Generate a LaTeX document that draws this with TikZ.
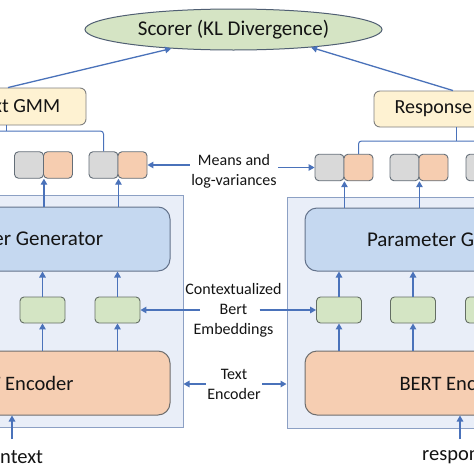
\documentclass[tikz,border=0pt]{standalone}
\usepackage{fontspec}
\setmainfont{Carlito}
\usetikzlibrary{arrows.meta,calc,shapes.geometric}
\definecolor{arrowblue}{RGB}{74,114,186}
\definecolor{panelfill}{RGB}{233,238,248}
\definecolor{paneldraw}{RGB}{140,160,196}
\definecolor{pgfill}{RGB}{197,216,240}
\definecolor{pgdraw}{RGB}{100,115,140}
\definecolor{encfill}{RGB}{246,206,178}
\definecolor{encdraw}{RGB}{110,110,110}
\definecolor{embfill}{RGB}{212,229,196}
\definecolor{embdraw}{RGB}{100,110,100}
\definecolor{gmmfill}{RGB}{254,242,210}
\definecolor{gmmdraw}{RGB}{128,128,128}
\definecolor{scfill}{RGB}{213,228,196}
\definecolor{scdraw}{RGB}{80,95,115}
\definecolor{cellgray}{RGB}{217,217,217}
\definecolor{cellorange}{RGB}{246,205,176}
\definecolor{celldraw}{RGB}{100,110,120}
\definecolor{txt}{RGB}{20,20,20}
\tikzset{
  arr/.style={draw=arrowblue, line width=1.3pt, -{Triangle[length=6pt,width=6.5pt]}},
  brk/.style={draw=arrowblue, line width=1pt, rounded corners=3pt},
  panel/.style={draw=paneldraw, fill=panelfill, line width=1pt, inner sep=0pt},
  pgbox/.style={draw=pgdraw, fill=pgfill, line width=1pt, rounded corners=12pt, inner sep=0pt, font=\fontsize{21}{25}\selectfont, text=txt},
  encbox/.style={draw=encdraw, fill=encfill, line width=1pt, rounded corners=12pt, inner sep=0pt, font=\fontsize{20.5}{24}\selectfont, text=txt},
  emb/.style={draw=embdraw, fill=embfill, line width=0.9pt, rounded corners=4pt, minimum width=45pt, minimum height=26pt, inner sep=0pt},
  gmmbox/.style={draw=gmmdraw, fill=gmmfill, line width=0.9pt, rounded corners=6pt, inner sep=0pt, font=\fontsize{20}{24}\selectfont, text=txt},
  cellg/.style={draw=celldraw, fill=cellgray, line width=0.9pt, rounded corners=4pt, minimum width=29pt, minimum height=26.5pt, inner sep=0pt},
  cello/.style={draw=celldraw, fill=cellorange, line width=0.9pt, rounded corners=4pt, minimum width=29pt, minimum height=26.5pt, inner sep=0pt},
  lbl/.style={align=center, inner sep=1.5pt, font=\fontsize{16}{20}\selectfont, text=txt},
  mainlbl/.style={inner sep=2pt, font=\fontsize{20.5}{24}\selectfont, text=txt}
}
\begin{document}
\begin{tikzpicture}[x=1pt,y=-1pt]
\useasboundingbox (0,0) rectangle (474,474);
\clip (0,0) rectangle (474,474);
\fill[white] (0,0) rectangle (474,474);

% panels
\node[panel, minimum width=383pt, minimum height=232pt] (panL) at (-8.5,311) {};
\node[panel, minimum width=413pt, minimum height=231pt] (panR) at (493.5,312.5) {};

% parameter generators
\node[pgbox, minimum width=315pt, minimum height=64pt] (pgL) at (12.5,239) {Parameter Generator};
\node[pgbox, minimum width=305pt, minimum height=63pt] (pgR) at (457.5,239.5) {Parameter Generator};

% encoders
\node[encbox, minimum width=308pt, minimum height=64pt] (encL) at (16,383) {BERT Encoder};
\node[encbox, minimum width=304pt, minimum height=64pt] (encR) at (457,383) {BERT Encoder};

% embeddings
\node[emb] (eL1) at (42.5,310) {};
\node[emb] (eL2) at (117.5,310) {};
\node[emb] (eR1) at (339,310) {};
\node[emb] (eR2) at (413,310) {};
\node[emb] (eR3) at (488,310) {};

% means / log-variances
\node[cellg] (vL1g) at (29,165) {};
\node[cello] (vL1o) at (58,165) {};
\node[cellg] (vL2g) at (103.5,165) {};
\node[cello] (vL2o) at (132.5,165) {};
\node[cellg] (vR1g) at (329.5,167.5) {};
\node[cello] (vR1o) at (358.5,167.5) {};
\node[cellg] (vR2g) at (404.5,167.5) {};
\node[cello] (vR2o) at (433.5,167.5) {};
\node[cellg] (vR3g) at (480.5,167.5) {};
\node[cello] (vR3o) at (509.5,167.5) {};

% GMMs
\node[gmmbox, minimum width=166pt, minimum height=37pt] (gmmL) at (3,106.5) {Context GMM};
\node[gmmbox, minimum width=170pt, minimum height=36pt] (gmmR) at (459,109) {Response GMM};

% scorer
\node[ellipse, draw=scdraw, fill=scfill, line width=1pt, minimum width=297pt, minimum height=41pt, inner sep=0pt, font=\fontsize{21}{25}\selectfont, text=txt] (scorer) at (233.5,29.5) {Scorer (KL Divergence)};

\draw[arr] ([xshift=5pt]gmmL.north) -- (scorer.197);
\draw[arr] ([xshift=-6pt]gmmR.north) -- (scorer.347);

% brackets
\coordinate (bL) at (6,131);
\coordinate (offL) at (-90,152);
\draw[brk] ([xshift=3pt]gmmL.south) -- (bL);
\draw[brk] (offL) |- (bL) -| (vL2g.north);
\coordinate (bR) at (456,141);
\coordinate (offR) at (553,154);
\draw[brk] ([xshift=-3pt]gmmR.south) -- (bR);
\draw[brk] (vR1o.north) |- (bR) -| (offR);

% param gen -> vectors
\draw[arr] (vL1g.south east |- pgL.north) -- (vL1g.south east);
\draw[arr] (vL2g.south east |- pgL.north) -- (vL2g.south east);
\draw[arr] (vR1g.south east |- pgR.north) -- (vR1g.south east);
\draw[arr] (vR2g.south east |- pgR.north) -- (vR2g.south east);

% embeddings -> param gen
\foreach \e/\p in {eL1/pgL, eL2/pgL, eR1/pgR, eR2/pgR, eR3/pgR}{
  \draw[arr] (\e.north) -- (\e.north |- \p.south);
}
% encoder -> embeddings
\foreach \e/\p in {eL1/encL, eL2/encL, eR1/encR, eR2/encR, eR3/encR}{
  \draw[arr] (\e.south |- \p.north) -- (\e.south);
}

% inputs
\node[mainlbl] (inL) at (12,457) {context};
\node[mainlbl] (inR) at (460,457) {response};
\draw[arr] ([yshift=9pt]inL.north) -- (inL.north |- encL.south);
\draw[arr] ([yshift=9pt]inR.north) -- (inR.north |- encR.south);

% middle labels
\node[lbl] (mlv) at (234,171) {Means and\\log-variances};
\draw[arr] (mlv.west |- vL2o.east) -- (vL2o.east);
\draw[arr] (mlv.east |- vR1g.west) -- (vR1g.west);

\node[lbl] (cbe) at (233.5,310) {Contextualized\\Bert\\Embeddings};
\draw[arr] ([xshift=-34pt]cbe.center) -- (eL2.east);
\draw[arr] ([xshift=26pt]cbe.center) -- (eR1.west);

\node[lbl] (te) at (234,384) {Text\\Encoder};
\draw[arr] (te.west) -- (te.west -| panL.east);
\draw[arr] (te.east) -- (te.east -| panR.west);
\end{tikzpicture}
\end{document}
